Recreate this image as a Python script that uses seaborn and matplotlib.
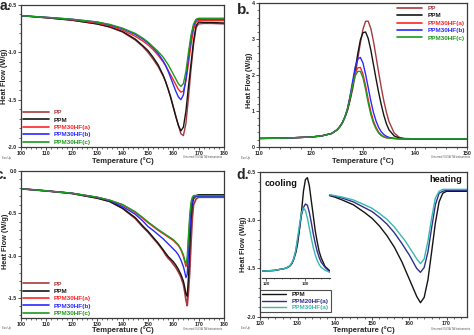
import matplotlib
matplotlib.use("Agg")
import matplotlib.pyplot as plt
from matplotlib.ticker import MultipleLocator
from matplotlib.lines import Line2D
import seaborn as sns

sns.set_style("ticks")
plt.rcParams["font.family"] = ["Liberation Sans", "DejaVu Sans"]
plt.rcParams["font.weight"] = "bold"
plt.rcParams["axes.labelweight"] = "bold"
plt.rcParams["axes.unicode_minus"] = False

# ---------------- colours ----------------
C_PP = "#a83a3e"
C_PPM = "#151515"
C_A = "#ff2424"
C_B = "#2a2aff"
C_C = "#1e9a1e"
C_20 = "#30308c"
C_30 = "#38b8b2"

# ---------------- (a) first heating ----------------
temp_a = [100, 110, 120, 130, 135, 140, 145, 148, 150, 152, 154, 156, 157, 158, 159,
          160, 161, 162, 163, 164, 165, 166, 167, 168, 169, 170, 172, 175, 180]
pp_a = [-0.613, -0.635, -0.66, -0.70, -0.735, -0.785, -0.87, -0.94, -1.00, -1.07, -1.15,
        -1.25, -1.31, -1.39, -1.47, -1.57, -1.67, -1.77, -1.86, -1.88, -1.75, -1.48,
        -1.18, -0.92, -0.74, -0.70, -0.695, -0.695, -0.70]
ppm_a = [-0.613, -0.635, -0.66, -0.70, -0.73, -0.78, -0.86, -0.93, -0.98, -1.05, -1.13,
         -1.24, -1.31, -1.39, -1.48, -1.58, -1.68, -1.77, -1.83, -1.79, -1.62, -1.36,
         -1.12, -0.88, -0.72, -0.68, -0.685, -0.685, -0.69]
hfa_a = [-0.613, -0.632, -0.655, -0.69, -0.72, -0.765, -0.83, -0.88, -0.92, -0.97, -1.03,
         -1.10, -1.14, -1.19, -1.24, -1.29, -1.34, -1.39, -1.42, -1.41, -1.30, -1.12,
         -0.92, -0.76, -0.68, -0.665, -0.665, -0.665, -0.665]
hfb_a = [-0.613, -0.63, -0.65, -0.68, -0.71, -0.75, -0.81, -0.86, -0.90, -0.95, -1.01,
         -1.09, -1.14, -1.20, -1.27, -1.34, -1.41, -1.47, -1.50, -1.45, -1.28, -1.05,
         -0.85, -0.72, -0.66, -0.65, -0.65, -0.65, -0.65]
hfc_a = [-0.613, -0.63, -0.65, -0.68, -0.705, -0.745, -0.80, -0.85, -0.89, -0.94, -0.99,
         -1.05, -1.09, -1.13, -1.18, -1.23, -1.28, -1.33, -1.36, -1.33, -1.20, -1.00,
         -0.82, -0.70, -0.65, -0.64, -0.64, -0.64, -0.64]

# ---------------- (b) cooling ----------------
temp_b = [110, 115, 120, 122, 124, 125, 125.5, 126, 126.5, 127, 127.5, 128, 128.5, 129,
          129.5, 130, 130.5, 131, 131.5, 132, 132.5, 133, 133.5, 134, 134.5, 135, 136,
          137, 138, 140, 145, 150]
pp_b = [0.23, 0.24, 0.27, 0.30, 0.37, 0.47, 0.55, 0.66, 0.81, 1.00, 1.28, 1.60, 2.00,
        2.45, 2.90, 3.28, 3.50, 3.50, 3.30, 2.95, 2.52, 2.08, 1.66, 1.28, 0.96, 0.70,
        0.38, 0.26, 0.23, 0.22, 0.22, 0.22]
ppm_b = [0.23, 0.24, 0.27, 0.30, 0.37, 0.47, 0.55, 0.66, 0.82, 1.02, 1.32, 1.70, 2.15,
         2.60, 2.98, 3.18, 3.20, 3.02, 2.70, 2.30, 1.90, 1.52, 1.18, 0.88, 0.64, 0.47,
         0.30, 0.24, 0.22, 0.22, 0.22, 0.22]
hfa_b = [0.23, 0.24, 0.27, 0.30, 0.37, 0.47, 0.55, 0.66, 0.82, 1.05, 1.38, 1.75, 2.06,
         2.20, 2.21, 2.02, 1.70, 1.32, 0.98, 0.72, 0.54, 0.41, 0.33, 0.28, 0.25, 0.24,
         0.23, 0.22, 0.22, 0.22, 0.22, 0.22]
hfb_b = [0.23, 0.24, 0.27, 0.30, 0.37, 0.47, 0.55, 0.66, 0.82, 1.05, 1.40, 1.82, 2.22,
         2.45, 2.49, 2.33, 2.02, 1.65, 1.28, 0.96, 0.72, 0.54, 0.42, 0.34, 0.29, 0.26,
         0.23, 0.22, 0.22, 0.22, 0.22, 0.22]
hfc_b = [0.23, 0.24, 0.27, 0.30, 0.37, 0.47, 0.55, 0.66, 0.82, 1.05, 1.35, 1.70, 1.98,
         2.10, 2.10, 1.92, 1.60, 1.22, 0.90, 0.66, 0.50, 0.38, 0.31, 0.27, 0.25, 0.24,
         0.23, 0.22, 0.22, 0.22, 0.22, 0.22]

# ---------------- (c) second heating ----------------
temp_c = [100, 110, 120, 130, 135, 140, 145, 148, 150, 152, 154, 156, 157, 158, 159, 160,
          161, 162, 163, 164, 164.5, 165, 165.5, 166, 166.5, 167, 167.5, 168, 169, 170,
          172, 175, 180]
pp_c = [-0.21, -0.235, -0.265, -0.32, -0.36, -0.44, -0.56, -0.66, -0.72, -0.79, -0.86,
        -0.94, -0.99, -1.03, -1.06, -1.10, -1.14, -1.19, -1.25, -1.34, -1.42, -1.52,
        -1.59, -1.42, -1.18, -0.85, -0.56, -0.40, -0.33, -0.31, -0.31, -0.31, -0.31]
ppm_c = [-0.21, -0.235, -0.265, -0.32, -0.36, -0.44, -0.55, -0.65, -0.71, -0.78, -0.85,
         -0.93, -0.97, -1.01, -1.04, -1.07, -1.11, -1.16, -1.22, -1.30, -1.37, -1.45,
         -1.48, -1.25, -0.90, -0.58, -0.40, -0.33, -0.29, -0.28, -0.28, -0.28, -0.28]
hfa_c = [-0.21, -0.235, -0.262, -0.31, -0.345, -0.40, -0.49, -0.56, -0.61, -0.655, -0.70,
         -0.74, -0.76, -0.78, -0.80, -0.82, -0.85, -0.88, -0.93, -1.01, -1.07, -1.13,
         -1.08, -0.82, -0.58, -0.40, -0.33, -0.31, -0.30, -0.30, -0.30, -0.30, -0.30]
hfb_c = [-0.21, -0.235, -0.262, -0.31, -0.35, -0.42, -0.51, -0.59, -0.655, -0.70, -0.75,
         -0.80, -0.83, -0.86, -0.89, -0.92, -0.95, -0.99, -1.05, -1.13, -1.19, -1.26,
         -1.22, -0.98, -0.70, -0.46, -0.35, -0.31, -0.30, -0.30, -0.30, -0.30, -0.30]
hfc_c = [-0.21, -0.235, -0.262, -0.31, -0.345, -0.395, -0.48, -0.55, -0.60, -0.645, -0.69,
         -0.73, -0.75, -0.77, -0.79, -0.81, -0.84, -0.87, -0.92, -0.99, -1.05, -1.10,
         -1.02, -0.76, -0.52, -0.37, -0.31, -0.29, -0.29, -0.29, -0.29, -0.29, -0.29]

# ---------------- (d) heating of PPM / PPM20HF(a) / PPM30HF(a) ----------------
temp_d = [138.6, 140, 142, 145, 148, 150, 152, 154, 156, 158, 159, 160, 161, 162, 163,
          164, 165, 166, 167, 168, 169, 170, 172, 175.5]
ppm_d = [-0.745, -0.76, -0.79, -0.84, -0.92, -0.98, -1.06, -1.16, -1.28, -1.43, -1.52,
         -1.61, -1.70, -1.79, -1.855, -1.80, -1.62, -1.33, -1.03, -0.81, -0.72, -0.70,
         -0.70, -0.70]
hf20_d = [-0.74, -0.75, -0.77, -0.81, -0.87, -0.91, -0.97, -1.04, -1.13, -1.24, -1.30,
          -1.36, -1.43, -1.50, -1.54, -1.49, -1.33, -1.08, -0.84, -0.72, -0.70, -0.69,
          -0.69, -0.69]
hf30_d = [-0.735, -0.745, -0.76, -0.79, -0.84, -0.876, -0.93, -0.99, -1.07, -1.17, -1.22,
          -1.28, -1.34, -1.40, -1.45, -1.40, -1.22, -0.98, -0.77, -0.70, -0.68, -0.68,
          -0.68, -0.68]

# (d) inset: cooling of the same three samples
temp_cool = [119, 122, 125, 126, 126.5, 127, 127.5, 128, 128.5, 129, 129.5, 130, 130.5,
             131, 131.5, 132, 132.5, 133, 133.5, 134, 135, 136.2]
ppm_cool = [0.23, 0.25, 0.32, 0.39, 0.46, 0.60, 0.80, 1.10, 1.58, 2.13, 2.78, 3.15, 3.21,
            2.95, 2.47, 2.00, 1.52, 1.17, 0.86, 0.66, 0.38, 0.24]
hf20_cool = [0.23, 0.25, 0.32, 0.39, 0.48, 0.62, 0.85, 1.22, 1.62, 2.02, 2.26, 2.37, 2.33,
             2.10, 1.78, 1.42, 1.12, 0.86, 0.67, 0.52, 0.35, 0.21]
hf30_cool = [0.23, 0.25, 0.32, 0.40, 0.49, 0.62, 0.88, 1.30, 1.72, 2.10, 2.24, 2.16, 1.92,
             1.60, 1.28, 0.98, 0.75, 0.57, 0.44, 0.35, 0.26, 0.19]

labels_abc = ["PP", "PPM", "PPM30HF(a)", "PPM30HF(b)", "PPM30HF(c)"]
colors_abc = [C_PP, C_PPM, C_A, C_B, C_C]
labels_d = ["PPM", "PPM20HF(a)", "PPM30HF(a)"]
colors_d = [C_PPM, C_20, C_30]

W, H = 474, 335
fig = plt.figure(figsize=(W / 100, H / 100), dpi=100)

TICK_FS = 3.8
XLABEL_FS = 5.5
YLABEL_FS = 5.3
LEG_FS = 4.6


def rect(l, t, r, b):
    return [l / W, 1 - b / H, (r - l) / W, (b - t) / H]


def draw(ax, x, y, color, lw=1.0):
    sns.lineplot(x=x, y=y, ax=ax, color=color, lw=lw, estimator=None,
                 sort=False, legend=False)


def style(ax, xlim, ylim, xmaj, ymaj, ymin_step, ylab_x, ylab_y, xlab_y):
    ax.set_xlim(*xlim)
    ax.set_ylim(*ylim)
    ax.xaxis.set_major_locator(MultipleLocator(xmaj))
    ax.xaxis.set_minor_locator(MultipleLocator(2))
    ax.yaxis.set_major_locator(MultipleLocator(ymaj))
    ax.yaxis.set_minor_locator(MultipleLocator(ymin_step))
    ax.tick_params(which="major", direction="out", length=2.0, width=0.6,
                   labelsize=TICK_FS, pad=0.8, color="#333333")
    ax.tick_params(which="minor", direction="out", length=1.1, width=0.5,
                   color="#333333")
    for s in ax.spines.values():
        s.set_visible(True)
        s.set_color("#3a3a3a")
        s.set_linewidth(0.9)
    ax.set_xlabel("Temperature (°C)", fontsize=XLABEL_FS, fontweight="bold")
    ax.set_ylabel("Heat Flow (W/g)", fontsize=YLABEL_FS, fontweight="bold")
    ax.xaxis.set_label_coords(0.5, xlab_y)
    ax.xaxis.label.set_va("top")
    ax.yaxis.set_label_coords(ylab_x, ylab_y)


def legend_abc(ax, loc, anchor):
    handles = [Line2D([], [], color=c, lw=1.2) for c in colors_abc]
    leg = ax.legend(handles, labels_abc, loc=loc, bbox_to_anchor=anchor,
                    frameon=False, fontsize=LEG_FS, handlelength=4.0,
                    handletextpad=0.8, labelspacing=0.3, borderaxespad=0.2,
                    borderpad=0.15)
    for t, c in zip(leg.get_texts(), colors_abc):
        t.set_color(c)
        t.set_fontweight("bold")


def footer(ax_left_px, ax_right_px, y_px):
    fig.text(ax_left_px / W, 1 - y_px / H, "Exo Up", fontsize=2.0, color="#555555",
             ha="left", va="center", fontweight="normal")
    fig.text(ax_right_px / W, 1 - y_px / H, "Universal V4.5A TA Instruments",
             fontsize=2.0, color="#555555", ha="right", va="center",
             fontweight="normal")


# ---------- panel a ----------
ax_a = fig.add_axes(rect(21, 5, 224, 147))
for y, c in zip([pp_a, ppm_a, hfa_a, hfb_a, hfc_a], colors_abc):
    draw(ax_a, temp_a, y, c)
style(ax_a, (100, 180), (-2.0, -0.5), 10, 0.5, 0.1, -0.062, 0.5, -0.07)
legend_abc(ax_a, "lower left", (0.0, 0.0))
footer(2, 222, 157.5)

# ---------- panel b ----------
ax_b = fig.add_axes(rect(259, 3.3, 467, 146.7))
for y, c in zip([pp_b, ppm_b, hfa_b, hfb_b, hfc_b], colors_abc):
    draw(ax_b, temp_b, y, c)
style(ax_b, (110, 150), (0, 4), 10, 1, 0.2, -0.028, 0.465, -0.072)
legend_abc(ax_b, "upper right", (1.0, 1.0))
footer(241, 470, 157.5)

# ---------- panel c ----------
ax_c = fig.add_axes(rect(21, 171, 224, 318.3))
for y, c in zip([pp_c, ppm_c, hfa_c, hfb_c, hfc_c], colors_abc):
    draw(ax_c, temp_c, y, c, lw=1.3 if c == C_PP else 1.0)
style(ax_c, (100, 180), (-1.74, 0.0), 10, 0.5, 0.1, -0.059, 0.52, -0.052)
legend_abc(ax_c, "lower left", (0.0, 0.0))
footer(2, 222, 328.5)

# ---------- panel d ----------
ax_d = fig.add_axes(rect(260.3, 172, 467, 316.7))
for y, c in zip([ppm_d, hf20_d, hf30_d], colors_d):
    draw(ax_d, temp_d, y, c)
style(ax_d, (120, 175.5), (-2.0, -0.5), 10, 0.5, 0.1, -0.064, 0.5, -0.068)
handles_d = [Line2D([], [], color=c, lw=1.0) for c in colors_d]
leg_d = ax_d.legend(handles_d, labels_d, loc="upper left",
                    bbox_to_anchor=(0.0, 1 - (290 - 172) / 144.7),
                    frameon=True, fancybox=False, fontsize=LEG_FS, handlelength=3.8,
                    handletextpad=0.8, labelspacing=0.15, borderaxespad=0.0,
                    borderpad=0.3)
leg_d.get_frame().set_edgecolor("#222222")
leg_d.get_frame().set_linewidth(0.8)
for t, c in zip(leg_d.get_texts(), colors_d):
    t.set_color(c)
    t.set_fontweight("bold")
footer(241, 470, 328.5)

# inset with the cooling exotherms
ax_in = fig.add_axes(rect(262, 171.7, 329.7, 278.3))
ax_in.patch.set_alpha(0)
for y, c in zip([ppm_cool, hf20_cool, hf30_cool], colors_d):
    draw(ax_in, temp_cool, y, c)
ax_in.set_xlim(118.9, 136.2)
ax_in.set_ylim(0, 3.4)
ax_in.xaxis.set_major_locator(MultipleLocator(10))
ax_in.xaxis.set_minor_locator(MultipleLocator(2))
ax_in.set_yticks([])
ax_in.set_xlabel("")
ax_in.set_ylabel("")
ax_in.tick_params(which="major", direction="out", length=1.8, width=0.5,
                  labelsize=3.2, pad=0.8, color="#333333")
ax_in.tick_params(which="minor", direction="out", length=1.0, width=0.4,
                  color="#333333")
for side in ["left", "top", "right"]:
    ax_in.spines[side].set_visible(False)
ax_in.spines["bottom"].set_color("#3a3a3a")
ax_in.spines["bottom"].set_linewidth(0.8)

fig.text(265 / W, 1 - 183 / H, "cooling", fontsize=6.6, fontweight="bold",
         ha="left", va="center", color="#111111")
fig.text(429 / W, 1 - 180 / H, "heating", fontsize=6.6, fontweight="bold",
         ha="left", va="center", color="#111111")

# panel letters
fig.text(0 / W, 1 + 1 / H, "a.", fontsize=10, fontweight="bold", ha="left", va="top")
fig.text(237 / W, 1 - 3 / H, "b.", fontsize=11, fontweight="bold", ha="left", va="top")
fig.text(-6 / W, 1 - 168 / H, "c.", fontsize=11, fontweight="bold", ha="left", va="top")
fig.text(236 / W, 1 - 168 / H, "d.", fontsize=10, fontweight="bold", ha="left", va="top")

fig.savefig("out.png", dpi=100)
